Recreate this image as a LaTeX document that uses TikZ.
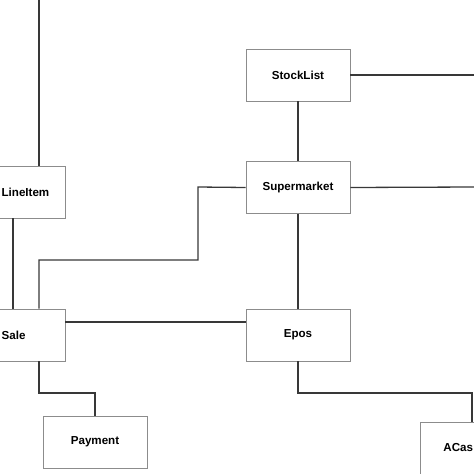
\documentclass[tikz,border=0pt]{standalone}
\usepackage{fontspec}
\setmainfont{Liberation Sans}
\begin{document}
\begin{tikzpicture}[x=1pt,y=-1pt,
  box/.style={draw=black!45,line width=0.9pt,fill=white,minimum width=104pt,minimum height=52pt,inner sep=0pt,font=\fontsize{11.6}{13}\selectfont\bfseries},
  lbl/.style={inner sep=0pt,font=\fontsize{11.6}{13}\selectfont\bfseries},
  conn/.style={draw=black!78,line width=1.3pt}]
\useasboundingbox (0,0) rectangle (474,474);
\clip (0,0) rectangle (474,474);
\fill[white] (0,0) rectangle (474,474);
% free ends and bends
\coordinate (topend) at (39,0);
\coordinate (rsl) at (474,75);
\coordinate (rsm) at (474,187);
\coordinate (b1) at (39,260);
\coordinate (b2) at (198,260);
\coordinate (b3) at (198,187);
\coordinate (p1) at (39,393);
\coordinate (p2) at (95,393);
\coordinate (e1) at (298,393);
\coordinate (e2) at (472,393);
% boxes
\node[box] (stock) at (298,75) {StockList};
\node[box] (super) at (298,187.5) {Supermarket};
\node[box] (epos) at (298,335) {Epos};
\node[box] (lineitem) at (13,192) {};
\node[lbl,anchor=east] (lilbl) at (49.5,192) {LineItem};
\node[box] (sale) at (13,335) {};
\node[lbl,anchor=west] (salelbl) at (1.5,335) {Sale};
\node[box] (pay) at (95,442) {Payment};
\node[box] (acash) at (472,448) {};
\node[lbl,anchor=east] (aclbl) at (473.3,448) {ACas};
% lines
\draw[conn] (stock.east) -- (rsl);
\draw[conn] (super.east) -- (rsm);
\draw[conn] (stock.south) -- (super.north);
\draw[conn] (super.south) -- (epos.north);
\draw[conn] (lineitem.north -| topend) -- (topend);
\draw[conn] (lineitem.south -| 13,0) -- (sale.north -| 13,0);
\draw[conn] (super.west) -- (b3) -- (b2) -- (b1) -- (sale.north -| b1);
\draw[conn] (sale.east |- 0,322) -- (epos.west |- 0,322);
\draw[conn] (sale.south -| p1) -- (p1) -- (p2) -- (pay.north);
\draw[conn] (epos.south) -- (e1) -- (e2) -- (acash.north);
\end{tikzpicture}
\end{document}
